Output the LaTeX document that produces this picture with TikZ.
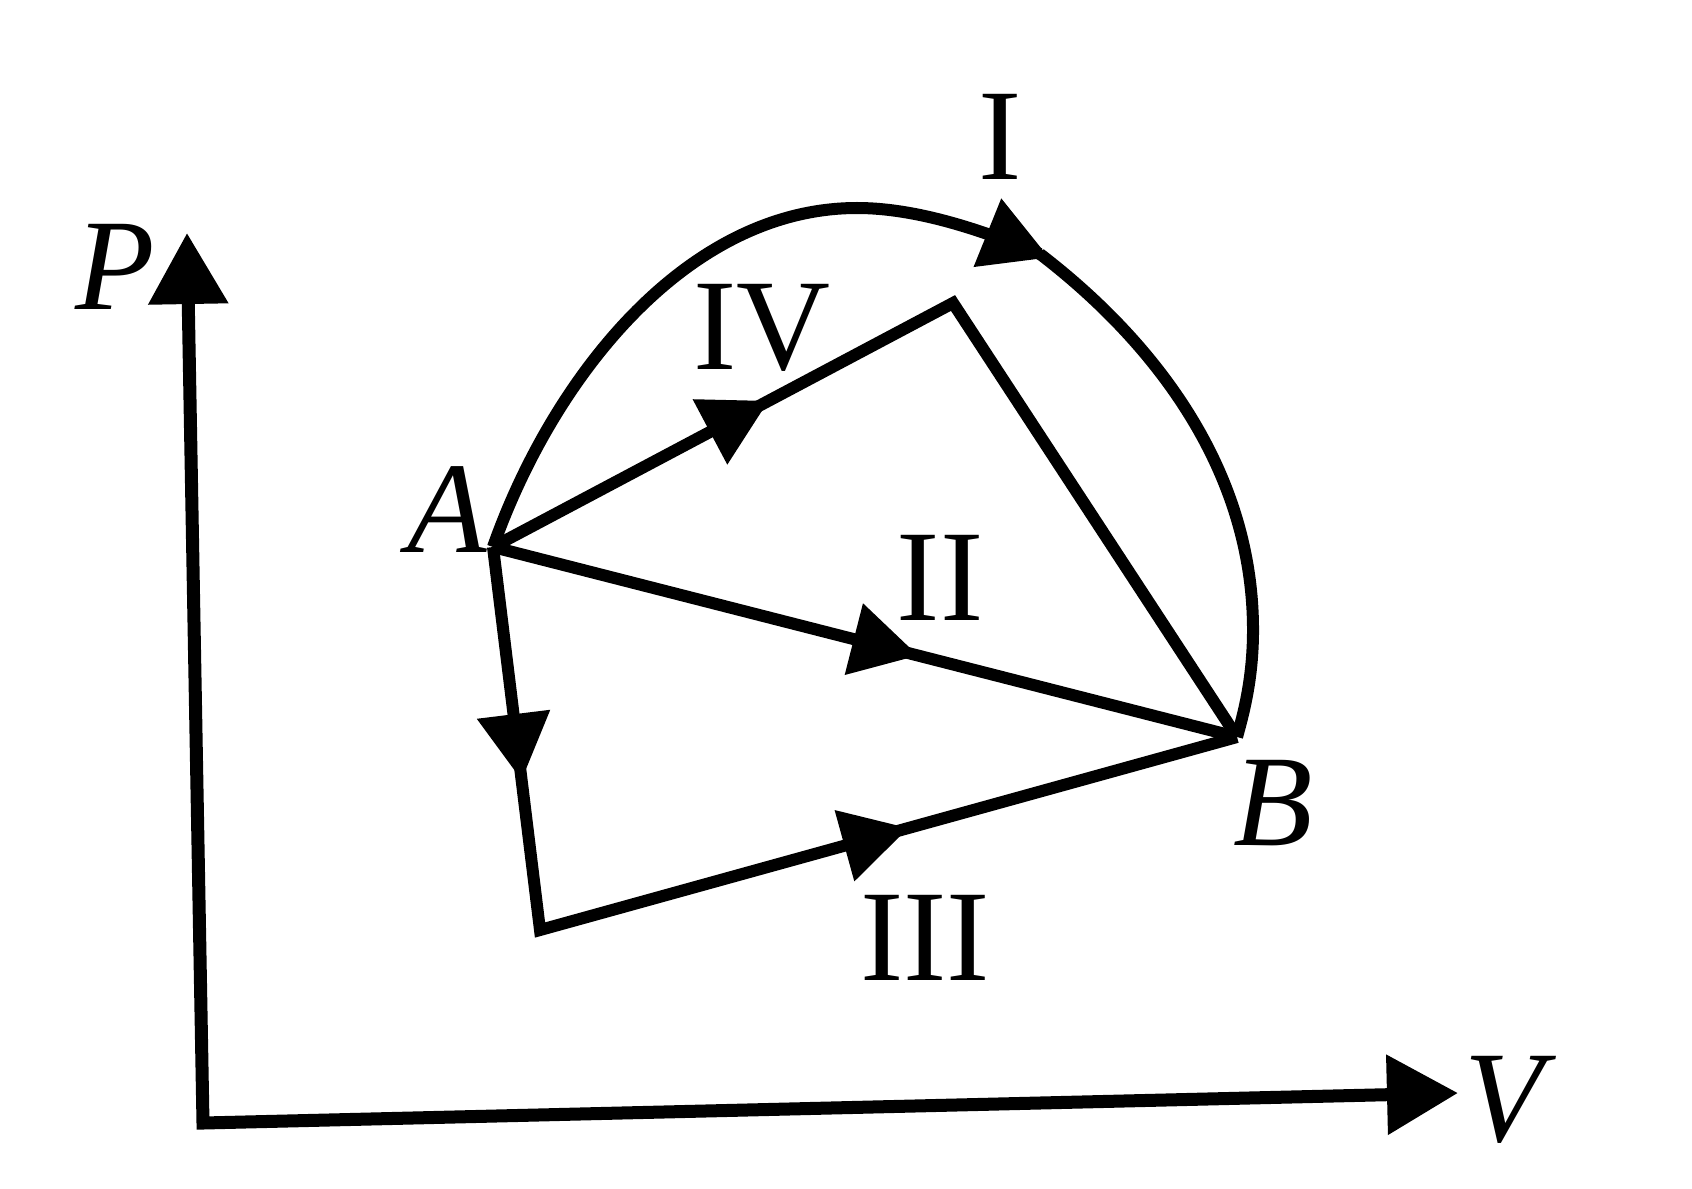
\documentclass[tikz,border=0pt]{standalone}
\usepackage{fontspec}
\setmainfont{Liberation Serif}
\usetikzlibrary{arrows.meta,decorations.markings}
\newcommand\trihead{\fill (0pt,0pt) -- (-0.66cm,0.37cm) -- (-0.66cm,-0.37cm) -- cycle;}
\newcommand\triheadfwd{\fill (0.1cm,0pt) -- (-0.56cm,0.37cm) -- (-0.56cm,-0.37cm) -- cycle;}
\tikzset{
  lbl/.style={inner sep=0pt, font=\fontsize{37}{40}\selectfont},
  ilbl/.style={inner sep=0pt, font=\fontsize{37}{40}\selectfont\itshape},
  pathline/.style={line width=0.12cm, line join=miter},
  axisline/.style={line width=0.13cm, line join=miter},
}
\begin{document}
\begin{tikzpicture}[x={(0.01cm,0cm)}, y={(0cm,-0.01cm)}]
\useasboundingbox (0,0) rectangle (1692,1188);
% points
\coordinate (O) at (203,1123);
\coordinate (Ptip) at (187,233);
\coordinate (Vtip) at (1458,1093);
\coordinate (A) at (493,547);
\coordinate (B) at (1237,737);
\coordinate (C) at (540,930);
\coordinate (D) at (953,303);
\coordinate (T) at (857,208);
\coordinate (K) at (1040,254);
\coordinate (R) at (1253,630);
% axes
\draw[axisline, {Triangle[length=0.71cm 0 1,width=0.77cm 0 1]}-{Triangle[length=0.71cm 0 1,width=0.77cm 0 1]}] (Ptip) -- (O) -- (Vtip);
% process I (arc)
\draw[pathline, postaction={decorate}, decoration={markings, mark=at position 0.999 with {\triheadfwd}}]
  (A) .. controls (553,377) and (687,208) .. (T) .. controls (925,208) and (998,237) .. (K);
\draw[pathline] (K) .. controls (1143,333) and (1253,460) .. (R) .. controls (1253,680) and (1243,715) .. (B);
% process IV
\draw[pathline, postaction={decorate}, decoration={markings, mark=at position 0.2998 with {\trihead}}]
  (A) -- (D) -- (B);
% process II
\draw[pathline, postaction={decorate}, decoration={markings, mark=at position 0.571 with {\trihead}}]
  (A) -- (B);
% process III
\draw[pathline, postaction={decorate}, decoration={markings, mark=at position 0.2115 with {\trihead}, mark=at position 0.6923 with {\trihead}}]
  (A) -- (C) -- (B);
% labels
\node[ilbl] (lP) at (115,267) {P};
\node[ilbl] (lV) at (1504,1100) {V};
\node[ilbl] (lA) at (447,510) {A};
\node[ilbl] (lB) at (1273,803) {B};
\node[lbl] (lI) at (1000,137) {I};
\node[lbl] (lII) at (940,578) {II};
\node[lbl] (lIII) at (925,938) {III};
\node[lbl] (lIV) at (762,328) {IV};
\end{tikzpicture}
\end{document}
